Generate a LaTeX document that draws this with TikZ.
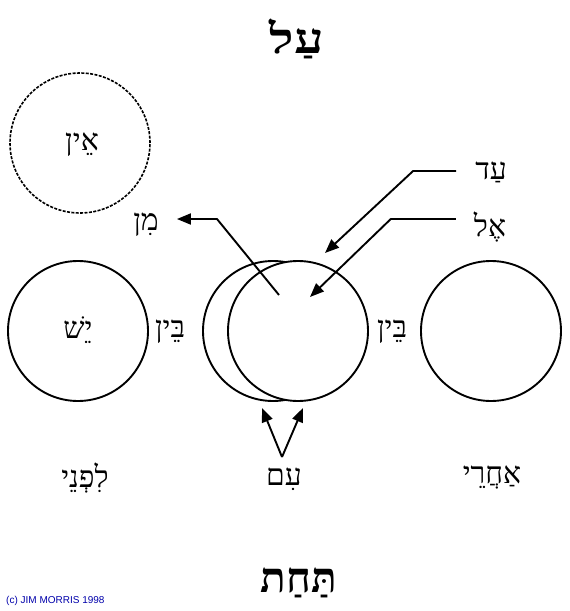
\documentclass[tikz,border=0pt]{standalone}
\usepackage{fontspec}
\usetikzlibrary{arrows.meta}
\TeXXeTstate=1
\newfontfamily\hebfont[Script=Hebrew]{Liberation Serif}
\setsansfont{Liberation Sans}
\definecolor{copyblue}{RGB}{0,0,170}

\begin{document}
\begin{tikzpicture}[x=1pt, y=-1pt,
			line join=round,
			every node/.style = {inner sep=0pt, anchor=base, font=\hebfont\fontsize{30}{30}\selectfont},
			ring/.style = {circle, draw, line width=1.9pt, minimum size=140pt, anchor=center},
			arr/.style = {line width=1.9pt, -{Triangle[length=14pt,width=11pt]}},
			bigword/.style = {font=\hebfont\bfseries\fontsize{42}{42}\selectfont}
			]
			\useasboundingbox (0,0) rectangle (570,611);
			\node[ring, line width=1.6pt, dash pattern=on 3pt off 1.4pt] (nothing) at (80,143) {};
			\node[ring] (before) at (78,331) {};
			\node[ring] (withback) at (273,331) {};
			\node[ring, fill=white] (with) at (298,331) {};
			\node[ring] (after) at (491,331) {};
			\node[bigword] (al) at (297,53) {\scalebox{1.25}[1]{\beginR עַל\endR}};
			\node (ein) at (82,150) {\beginR אֵין\endR};
			\node (min) at (146,230) {\beginR מִן\endR};
			\node (ad) at (491,179) {\beginR עַד\endR};
			\node (el) at (490,236) {\beginR אֶל\endR};
			\node (yesh) at (78,338) {\beginR יֵשׁ\endR};
			\node (beinL) at (170,337) {\beginR בֵּין\endR};
			\node (beinR) at (392,337) {\beginR בֵּין\endR};
			\node (lifnei) at (85,487) {\beginR לִפְנֵי\endR};
			\node (im) at (284,485) {\beginR עִם\endR};
			\node (acharei) at (492,483) {\beginR אַחֲרֵי\endR};
			\node[bigword] (tachat) at (299,592) {\beginR תַּחַת\endR};
			\node[anchor=base west, font=\sffamily\fontsize{10}{10}\selectfont, text=copyblue] (copy) at (6,603) {(c) JIM MORRIS 1998};
			\coordinate (mintail) at (279,295);
			\coordinate (adtip) at (325,253);
			\coordinate (eltip) at (310,297);
			\coordinate (imfork) at (282,457);
			\coordinate (imtipL) at (262,408);
			\coordinate (imtipR) at (303,408);
			\draw[arr] (mintail) -- (217,219) -- ([shift={(18,-11)}]min.base east);
			\draw[arr] ([shift={(-19,-8)}]ad.base west) -- ++(-43,0) -- (adtip);
			\draw[arr] ([shift={(-18,-17)}]el.base west) -- ++(-65,0) -- (eltip);
			\draw[arr] (imfork) -- (imtipL);
			\draw[arr] (imfork) -- (imtipR);
			\end{tikzpicture}
\end{document}
